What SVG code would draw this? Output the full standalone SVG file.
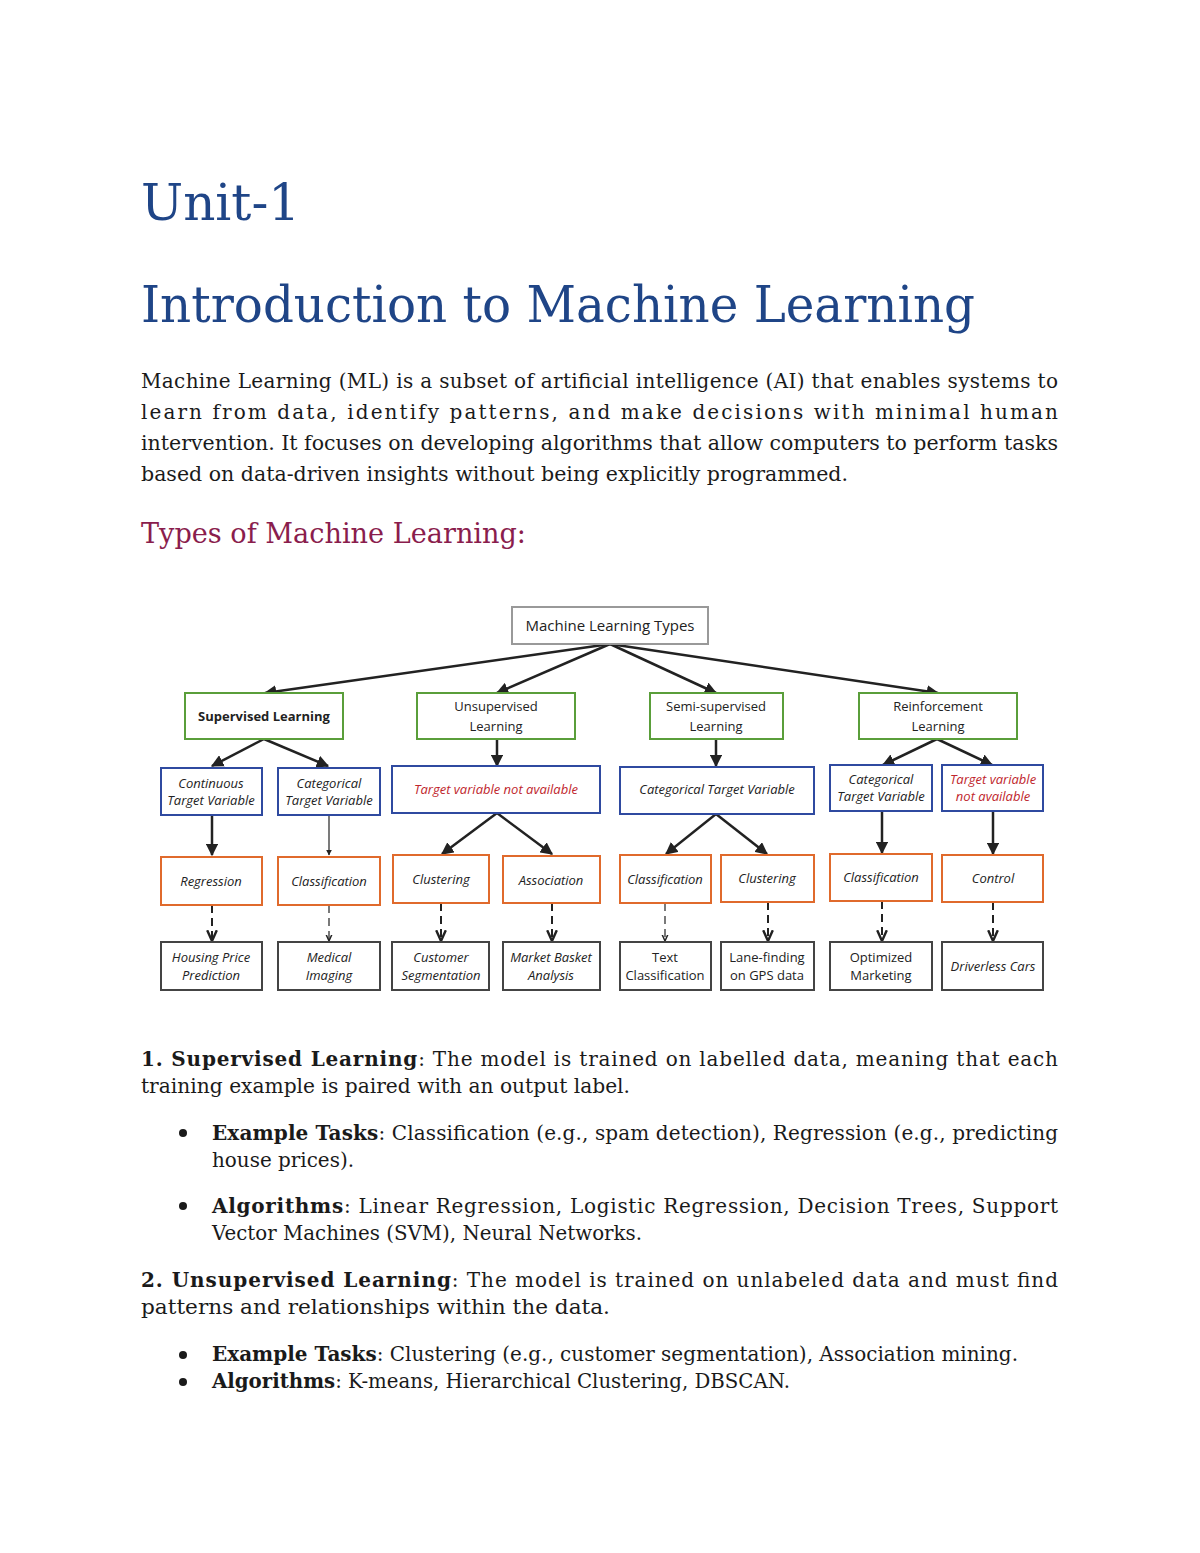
<svg xmlns="http://www.w3.org/2000/svg" width="1200" height="1553" viewBox="0 0 1200 1553">
<defs>
<marker id="ah" viewBox="0 0 10 10" refX="9" refY="5" markerWidth="5" markerHeight="5" orient="auto"><path d="M0,0 L10,5 L0,10 z" fill="#222"/></marker>
<marker id="av" viewBox="0 0 10 10" refX="9" refY="5" markerWidth="6" markerHeight="6" orient="auto"><path d="M0,1 L9,5 L0,9" fill="none" stroke="#222" stroke-width="2"/></marker>
</defs>
<style>
.t{font-family:"DejaVu Serif","Liberation Serif",serif;fill:#1f4587}
.b{font-family:"DejaVu Serif","Liberation Serif",serif;font-size:20px;fill:#1a1a1a}
.h{font-family:"DejaVu Serif","Liberation Serif",serif;font-size:28px;fill:#8a1d4d}
.g rect{fill:#fff;stroke:#5a9e3a;stroke-width:2}
.bl rect{fill:#fff;stroke:#2f4aa0;stroke-width:2}
.o rect{fill:#fff;stroke:#e06a2c;stroke-width:2}
.k rect{fill:#fff;stroke:#444;stroke-width:2}
.r rect{fill:#fff;stroke:#999;stroke-width:2}
text.n{font-family:"Open Sans","Liberation Sans",sans-serif;font-size:13px;fill:#222;text-anchor:middle}
text.i{font-style:italic}
text.red{fill:#c0262d}
.c line{stroke:#222;stroke-width:2.5}
.c line.s{marker-end:url(#ah)}
.c line.d{stroke-dasharray:8,5;stroke-width:2;marker-end:url(#av)}
</style>
<rect width="1200" height="1553" fill="#fff"/>
<text class="t" x="141" y="220" font-size="50">Unit-1</text>
<text class="t" x="141" y="322" font-size="50" textLength="834" lengthAdjust="spacingAndGlyphs">Introduction to Machine Learning</text>
<text class="b" x="141" y="388" textLength="917">Machine Learning (ML) is a subset of artificial intelligence (AI) that enables systems to</text>
<text class="b" x="141" y="419" textLength="917">learn from data, identify patterns, and make decisions with minimal human</text>
<text class="b" x="141" y="450" textLength="917" lengthAdjust="spacingAndGlyphs">intervention. It focuses on developing algorithms that allow computers to perform tasks</text>
<text class="b" x="141" y="481" textLength="707" lengthAdjust="spacingAndGlyphs">based on data-driven insights without being explicitly programmed.</text>
<text class="h" x="141" y="543" textLength="385" lengthAdjust="spacingAndGlyphs">Types of Machine Learning:</text>

<g class="c">
<line class="s" x1="610" y1="644" x2="265" y2="693"/>
<line class="s" x1="610" y1="644" x2="497" y2="693"/>
<line class="s" x1="610" y1="644" x2="716" y2="693"/>
<line class="s" x1="610" y1="644" x2="938" y2="693"/>
<line class="s" x1="264" y1="739" x2="212" y2="766"/>
<line class="s" x1="264" y1="739" x2="328" y2="766"/>
<line class="s" x1="497" y1="739" x2="497" y2="766"/>
<line class="s" x1="716" y1="739" x2="716" y2="766"/>
<line class="s" x1="937" y1="739" x2="883" y2="765"/>
<line class="s" x1="937" y1="739" x2="992" y2="765"/>
<line class="s" x1="212" y1="815" x2="212" y2="855"/>
<line class="s" x1="329" y1="815" x2="329" y2="855" style="stroke-width:1.2"/>
<line class="s" x1="497" y1="813" x2="442" y2="854"/>
<line class="s" x1="497" y1="813" x2="552" y2="854"/>
<line class="s" x1="716" y1="814" x2="666" y2="854"/>
<line class="s" x1="716" y1="814" x2="767" y2="854"/>
<line class="s" x1="882" y1="811" x2="882" y2="853"/>
<line class="s" x1="993" y1="811" x2="993" y2="854"/>
<line class="d" x1="212" y1="905" x2="212" y2="941"/>
<line class="d" x1="329" y1="905" x2="329" y2="941" style="stroke-width:1.2"/>
<line class="d" x1="441" y1="903" x2="441" y2="941"/>
<line class="d" x1="552" y1="903" x2="552" y2="941"/>
<line class="d" x1="665" y1="903" x2="665" y2="941" style="stroke-width:1.2"/>
<line class="d" x1="768" y1="902" x2="768" y2="941"/>
<line class="d" x1="882" y1="901" x2="882" y2="941"/>
<line class="d" x1="993" y1="902" x2="993" y2="941"/>
</g>

<g id="root" class="r"><rect x="512" y="607" width="196" height="37"/><text class="n" x="610" y="631" style="font-size:15px">Machine Learning Types</text></g>
<g id="sup" class="g"><rect x="185" y="693" width="158" height="46"/><text class="n" x="264" y="721" font-weight="bold">Supervised Learning</text></g>
<g id="unsup" class="g"><rect x="417" y="693" width="158" height="46"/><text class="n" x="496" y="711">Unsupervised</text><text class="n" x="496" y="731">Learning</text></g>
<g id="semi" class="g"><rect x="650" y="693" width="133" height="46"/><text class="n" x="716" y="711">Semi-supervised</text><text class="n" x="716" y="731">Learning</text></g>
<g id="rl" class="g"><rect x="859" y="693" width="158" height="46"/><text class="n" x="938" y="711">Reinforcement</text><text class="n" x="938" y="731">Learning</text></g>

<g id="cont" class="bl"><rect x="161" y="768" width="101" height="47"/><text class="n i" x="211" y="788" font-size="12">Continuous</text><text class="n i" x="211" y="805" font-size="12">Target Variable</text></g>
<g id="cat1" class="bl"><rect x="278" y="768" width="102" height="47"/><text class="n i" x="329" y="788" font-size="12">Categorical</text><text class="n i" x="329" y="805" font-size="12">Target Variable</text></g>
<g id="tna1" class="bl"><rect x="392" y="766" width="208" height="47"/><text class="n i red" x="496" y="794" font-size="12">Target variable not available</text></g>
<g id="cat2" class="bl"><rect x="620" y="767" width="194" height="47"/><text class="n i" x="717" y="794" font-size="12">Categorical Target Variable</text></g>
<g id="cat3" class="bl"><rect x="830" y="765" width="102" height="46"/><text class="n i" x="881" y="784" font-size="12">Categorical</text><text class="n i" x="881" y="801" font-size="12">Target Variable</text></g>
<g id="tna2" class="bl"><rect x="942" y="765" width="101" height="46"/><text class="n i red" x="993" y="784" font-size="12">Target variable</text><text class="n i red" x="993" y="801" font-size="12">not available</text></g>

<g id="reg" class="o"><rect x="161" y="857" width="101" height="48"/><text class="n i" x="211" y="886" font-size="12">Regression</text></g>
<g id="cls1" class="o"><rect x="278" y="857" width="102" height="48"/><text class="n i" x="329" y="886" font-size="12">Classification</text></g>
<g id="clu1" class="o"><rect x="393" y="855" width="96" height="48"/><text class="n i" x="441" y="884" font-size="12">Clustering</text></g>
<g id="assoc" class="o"><rect x="503" y="856" width="97" height="47"/><text class="n i" x="551" y="885" font-size="12">Association</text></g>
<g id="cls2" class="o"><rect x="620" y="855" width="91" height="48"/><text class="n i" x="665" y="884" font-size="12">Classification</text></g>
<g id="clu2" class="o"><rect x="721" y="855" width="93" height="47"/><text class="n i" x="767" y="883" font-size="12">Clustering</text></g>
<g id="cls3" class="o"><rect x="830" y="854" width="102" height="47"/><text class="n i" x="881" y="882" font-size="12">Classification</text></g>
<g id="ctrl" class="o"><rect x="942" y="855" width="101" height="47"/><text class="n i" x="993" y="883" font-size="12">Control</text></g>

<g id="house" class="k"><rect x="161" y="942" width="101" height="48"/><text class="n i" x="211" y="962" font-size="12">Housing Price</text><text class="n i" x="211" y="980" font-size="12">Prediction</text></g>
<g id="med" class="k"><rect x="278" y="942" width="102" height="48"/><text class="n i" x="329" y="962" font-size="12">Medical</text><text class="n i" x="329" y="980" font-size="12">Imaging</text></g>
<g id="cust" class="k"><rect x="392" y="942" width="97" height="48"/><text class="n i" x="441" y="962" font-size="12">Customer</text><text class="n i" x="441" y="980" font-size="12">Segmentation</text></g>
<g id="mba" class="k"><rect x="503" y="942" width="97" height="48"/><text class="n i" x="551" y="962" font-size="12">Market Basket</text><text class="n i" x="551" y="980" font-size="12">Analysis</text></g>
<g id="text" class="k"><rect x="620" y="942" width="91" height="48"/><text class="n" x="665" y="962" font-size="12">Text</text><text class="n" x="665" y="980" font-size="12">Classification</text></g>
<g id="lane" class="k"><rect x="721" y="942" width="93" height="48"/><text class="n" x="767" y="962" font-size="12">Lane-finding</text><text class="n" x="767" y="980" font-size="12">on GPS data</text></g>
<g id="opt" class="k"><rect x="830" y="942" width="102" height="48"/><text class="n" x="881" y="962" font-size="12">Optimized</text><text class="n" x="881" y="980" font-size="12">Marketing</text></g>
<g id="drv" class="k"><rect x="942" y="942" width="101" height="48"/><text class="n i" x="993" y="971" font-size="12">Driverless Cars</text></g>

<text class="b" x="141" y="1066" textLength="917"><tspan font-weight="bold">1. Supervised Learning</tspan>: The model is trained on labelled data, meaning that each</text>
<text class="b" x="141" y="1093" textLength="489" lengthAdjust="spacingAndGlyphs">training example is paired with an output label.</text>
<circle cx="183" cy="1133" r="4" fill="#1a1a1a"/>
<text class="b" x="212" y="1140" textLength="846"><tspan font-weight="bold">Example Tasks</tspan>: Classification (e.g., spam detection), Regression (e.g., predicting</text>
<text class="b" x="212" y="1167" textLength="142" lengthAdjust="spacingAndGlyphs">house prices).</text>
<circle cx="183" cy="1206" r="4" fill="#1a1a1a"/>
<text class="b" x="212" y="1213" textLength="846"><tspan font-weight="bold">Algorithms</tspan>: Linear Regression, Logistic Regression, Decision Trees, Support</text>
<text class="b" x="212" y="1240" textLength="430" lengthAdjust="spacingAndGlyphs">Vector Machines (SVM), Neural Networks.</text>
<text class="b" x="141" y="1287" textLength="917"><tspan font-weight="bold">2. Unsupervised Learning</tspan>: The model is trained on unlabeled data and must find</text>
<text class="b" x="141" y="1314" textLength="469" lengthAdjust="spacingAndGlyphs">patterns and relationships within the data.</text>
<circle cx="183" cy="1355" r="4" fill="#1a1a1a"/>
<text class="b" x="212" y="1361" textLength="806" lengthAdjust="spacingAndGlyphs"><tspan font-weight="bold">Example Tasks</tspan>: Clustering (e.g., customer segmentation), Association mining.</text>
<circle cx="183" cy="1382" r="4" fill="#1a1a1a"/>
<text class="b" x="212" y="1388" textLength="578" lengthAdjust="spacingAndGlyphs"><tspan font-weight="bold">Algorithms</tspan>: K-means, Hierarchical Clustering, DBSCAN.</text>
</svg>
